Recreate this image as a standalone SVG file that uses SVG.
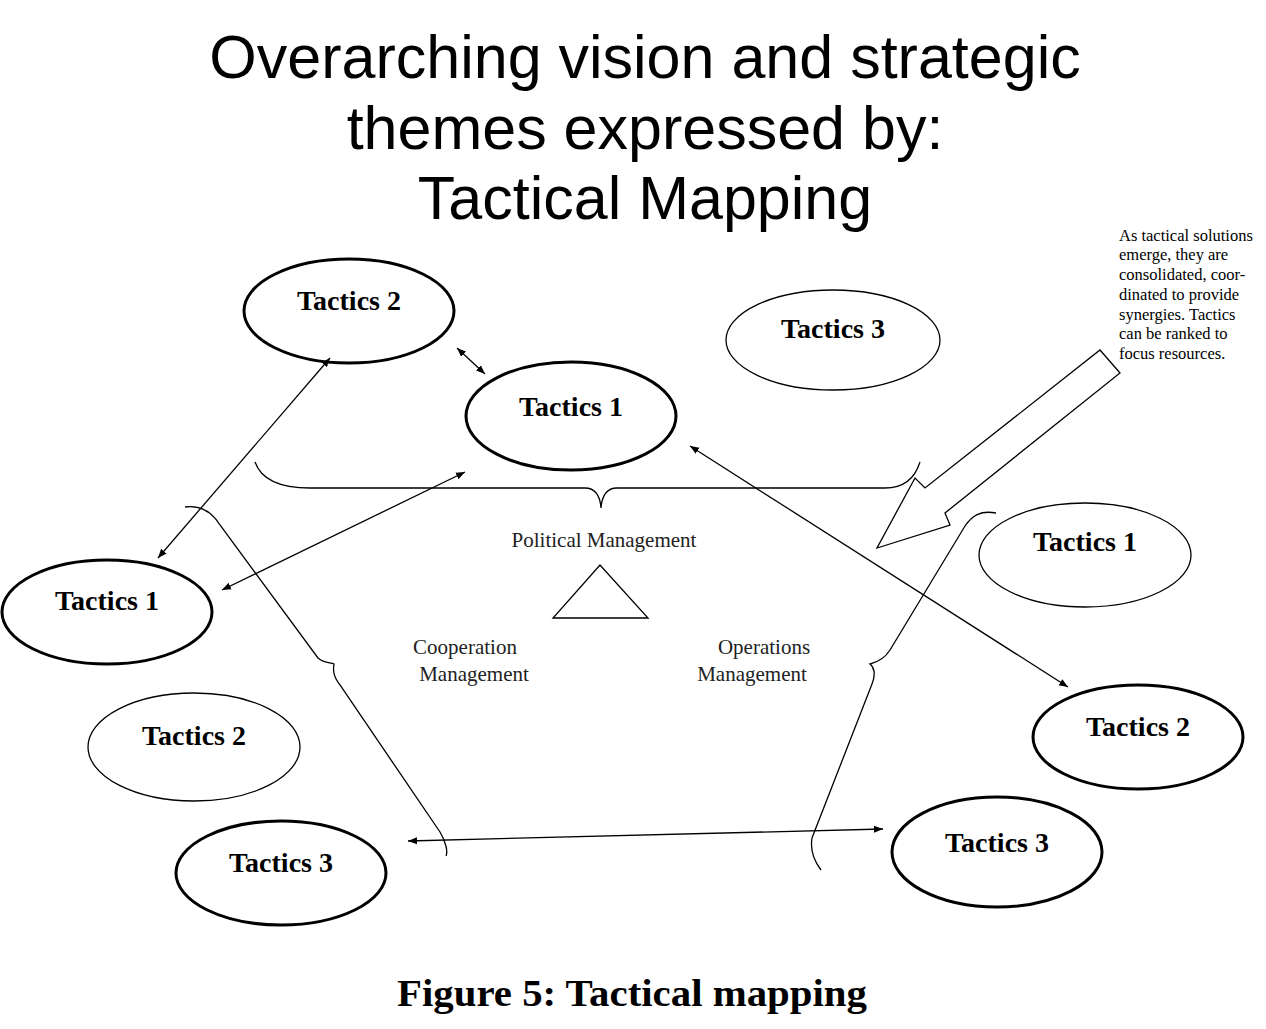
<svg xmlns="http://www.w3.org/2000/svg" width="1266" height="1029" viewBox="0 0 1266 1029">
<style>
.n{fill:#fff;stroke:#000}
.k{stroke-width:3}
.t{stroke-width:1.3}
.l{font-family:"Liberation Serif",serif;font-weight:bold;font-size:28px;text-anchor:middle}
.s{font-family:"Liberation Serif",serif;font-size:21px;text-anchor:middle;fill:#222}
.c{fill:none;stroke:#000;stroke-width:1.3}
</style>
<defs>
<marker id="a" viewBox="0 0 10 10" refX="10" refY="5" markerWidth="9" markerHeight="9" orient="auto-start-reverse" markerUnits="userSpaceOnUse"><path d="M0,1L10,5L0,9z"/></marker>
</defs>
<rect width="1266" height="1029" fill="#fff"/>
<g id="title" font-family="Liberation Sans,Arial,sans-serif" font-size="61" text-anchor="middle">
<text x="645" y="78">Overarching vision and strategic</text>
<text x="645" y="149">themes expressed by:</text>
<text x="645" y="219">Tactical Mapping</text>
</g>
<g id="note" font-family="Liberation Serif,serif" font-size="16.5">
<text x="1119" y="241">As tactical solutions</text>
<text x="1119" y="260">emerge, they are</text>
<text x="1119" y="280">consolidated, coor-</text>
<text x="1119" y="300">dinated to provide</text>
<text x="1119" y="320">synergies. Tactics</text>
<text x="1119" y="339">can be ranked to</text>
<text x="1119" y="359">focus resources.</text>
</g>
<g id="t2a"><ellipse class="n k" cx="349" cy="311" rx="105" ry="52"/><text class="l" x="349" y="310">Tactics 2</text></g>
<g id="t1c"><ellipse class="n k" cx="571" cy="416" rx="105" ry="54"/><text class="l" x="571" y="416">Tactics 1</text></g>
<g id="t3a"><ellipse class="n t" cx="833" cy="340" rx="107" ry="50"/><text class="l" x="833" y="338">Tactics 3</text></g>
<g id="t1r"><ellipse class="n t" cx="1085" cy="555" rx="106" ry="52"/><text class="l" x="1085" y="551">Tactics 1</text></g>
<g id="t1l"><ellipse class="n k" cx="107" cy="612" rx="105" ry="52"/><text class="l" x="107" y="610">Tactics 1</text></g>
<g id="t2l"><ellipse class="n t" cx="194" cy="747" rx="106" ry="54"/><text class="l" x="194" y="745">Tactics 2</text></g>
<g id="t2r"><ellipse class="n k" cx="1138" cy="737" rx="105" ry="52"/><text class="l" x="1138" y="736">Tactics 2</text></g>
<g id="t3l"><ellipse class="n k" cx="281" cy="873" rx="105" ry="52"/><text class="l" x="281" y="872">Tactics 3</text></g>
<g id="t3r"><ellipse class="n k" cx="997" cy="852" rx="105" ry="55"/><text class="l" x="997" y="852">Tactics 3</text></g>
<g id="mgmt">
<text class="s" x="604" y="547">Political Management</text>
<polygon points="553,618 648,618 600,565" fill="none" stroke="#000" stroke-width="1.3"/>
<text class="s" x="465" y="654">Cooperation</text>
<text class="s" x="474" y="681">Management</text>
<text class="s" x="764" y="654">Operations</text>
<text class="s" x="752" y="681">Management</text>
</g>
<g id="braces">
<path class="c" d="M255,462 C262,482 285,488 310,488 L585,488 C595,488 600,495 601,508 C602,495 607,488 617,488 L885,488 C905,488 915,478 920,462"/>
<path class="c" d="M185,507 C200,505 212,512 220,525 L318,658 C325,664 331,662 334,664 C333,670 333,676 340,685 L440,832 C446,842 448,852 446,856"/>
<path class="c" d="M996,513 C980,510 972,516 965,526 L890,650 C885,658 878,662 870,664 C874,667 876,674 872,684 L812,838 C810,850 815,862 821,870"/>
</g>
<g id="connectors" stroke="#000" stroke-width="1.3" fill="none">
<line x1="457" y1="348" x2="485" y2="374" marker-start="url(#a)" marker-end="url(#a)"/>
<line x1="330" y1="358" x2="158" y2="558" marker-start="url(#a)" marker-end="url(#a)"/>
<line x1="465" y1="472" x2="222" y2="590" marker-start="url(#a)" marker-end="url(#a)"/>
<line x1="690" y1="446" x2="1068" y2="687" marker-start="url(#a)" marker-end="url(#a)"/>
<line x1="408" y1="841" x2="883" y2="829" marker-start="url(#a)" marker-end="url(#a)"/>
<polygon points="1100,350 1120,373 945,513 950,525 877,548 915,478 925,488" fill="#fff"/>
</g>
<text x="632" y="1006" font-family="Liberation Serif,serif" font-weight="bold" font-size="38" text-anchor="middle" textLength="470" lengthAdjust="spacingAndGlyphs">Figure 5: Tactical mapping</text>
</svg>
